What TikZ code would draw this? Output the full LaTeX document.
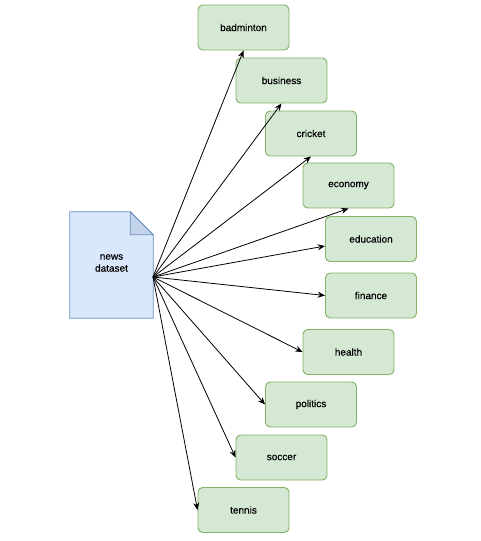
\documentclass[tikz,border=0pt]{standalone}
\usepackage{fontspec}
\setmainfont{Liberation Sans}
\newfontfamily\lblfont[FakeBold=0.6]{Liberation Sans}
\usetikzlibrary{arrows.meta}
\definecolor{gfill}{HTML}{D5E8D4}
\definecolor{gline}{HTML}{82B366}
\definecolor{bfill}{HTML}{DAE8FC}
\definecolor{bline}{HTML}{6C8EBF}
\definecolor{bfold}{HTML}{C3D3EA}
\begin{document}
\begin{tikzpicture}[x=0.75pt,y=-0.75pt,
  cat/.style={draw=gline,fill=gfill,line width=0.7pt,rounded corners=3.5pt,
    minimum width=68.25pt,minimum height=33.75pt,inner sep=0pt,
    font=\lblfont\fontsize{7.5}{9}\selectfont},
  docshape/.style={draw=bline,fill=bfill,line width=0.7pt},
  link/.style={draw=black,line width=0.6pt,-{Stealth[length=5.5pt,width=4.5pt]}}]
\useasboundingbox (0,0) rectangle (480,541);
\fill[white] (0,0) rectangle (480,541);
% document shape
\node[minimum width=62.25pt,minimum height=79.5pt,inner sep=0pt] (doc) at (111.5,265) {};
\draw[docshape] (doc.south west) -- (doc.north west) -- ([xshift=-17.25pt]doc.north east)
  -- ([yshift=-17.25pt]doc.north east) -- (doc.south east) -- cycle;
\draw[docshape,fill=bfold] ([xshift=-17.25pt]doc.north east) -- ([xshift=-17.25pt,yshift=-17.25pt]doc.north east)
  -- ([yshift=-17.25pt]doc.north east) -- cycle;
\node[align=center,font=\lblfont\fontsize{7.5}{9}\selectfont,inner sep=0pt] (doctext) at (111.5,263) {news\\dataset};
\coordinate (src) at (153,277);
% categories
\node[cat] (badminton) at (243.5,27.5) {badminton};
\node[cat] (business) at (281.5,80.5) {business};
\node[cat] (cricket) at (311,133.5) {cricket};
\node[cat] (economy) at (348.5,185.5) {economy};
\node[cat] (education) at (371,239) {education};
\node[cat] (finance) at (371,295.5) {finance};
\node[cat] (health) at (348.5,352) {health};
\node[cat] (politics) at (311,404.5) {politics};
\node[cat] (soccer) at (281.5,457.5) {soccer};
\node[cat] (tennis) at (243.5,510) {tennis};
% connectors
\draw[link] (src) -- (badminton.south);
\draw[link] (src) -- (business.south);
\draw[link] (src) -- (cricket.south);
\draw[link] (src) -- (economy.south);
\draw[link] (src) -- ([yshift=-5.25pt]education.west);
\draw[link] (src) -- (finance.west);
\draw[link] (src) -- (health.west);
\draw[link] (src) -- (politics.west);
\draw[link] (src) -- (soccer.west);
\draw[link] (src) -- (tennis.west);
\end{tikzpicture}
\end{document}
